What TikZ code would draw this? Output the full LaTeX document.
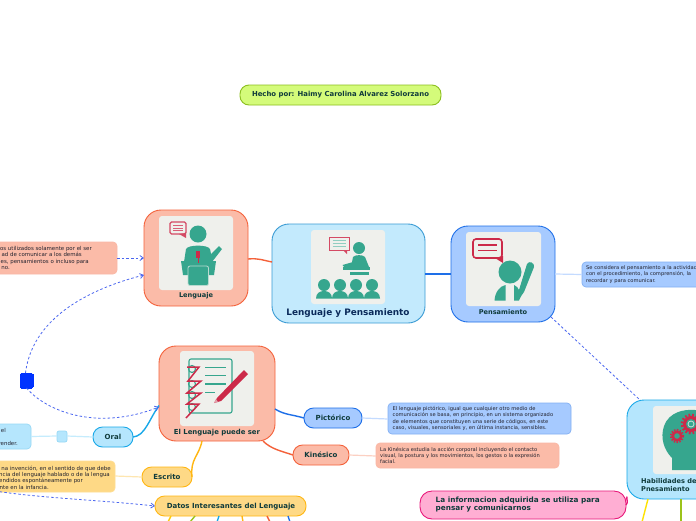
\documentclass[tikz,border=0pt]{standalone}
\usepackage{fontspec}
\setmainfont{DejaVu Sans}
\usetikzlibrary{arrows.meta}
\definecolor{teal1}{HTML}{36A68E}
\definecolor{red1}{HTML}{CC2A49}
\definecolor{panel}{HTML}{EFF0EC}
\definecolor{cyanF}{HTML}{C3EAFD}\definecolor{cyanD}{HTML}{3A9BD4}
\definecolor{oranF}{HTML}{FBBBA8}\definecolor{oranD}{HTML}{F4613A}\definecolor{oranL}{HTML}{FCD0C2}
\definecolor{bluF}{HTML}{A6CAFF}\definecolor{bluD}{HTML}{1E6FE8}\definecolor{bluL}{HTML}{C4DBFF}
\definecolor{skyF}{HTML}{B5E6FD}\definecolor{skyD}{HTML}{18A8E8}\definecolor{skyL}{HTML}{C5ECFD}
\definecolor{yelF}{HTML}{FED986}\definecolor{yelD}{HTML}{FFB612}\definecolor{yelL}{HTML}{FEE6B0}
\definecolor{pnkF}{HTML}{FFAED3}\definecolor{pnkD}{HTML}{E8187A}
\definecolor{grnF}{HTML}{D4FB7A}\definecolor{grnD}{HTML}{8CBF1F}\definecolor{grnC}{HTML}{9CC31A}
\definecolor{dashB}{HTML}{4A66F0}\definecolor{sqB}{HTML}{0033FF}
\definecolor{ink}{HTML}{0F3B3B}\definecolor{ink2}{HTML}{0B2A5A}\definecolor{noteink}{HTML}{22222E}
\newcommand\rbox[6]{\pgfmathsetmacro\cxx{(#3+#5)/2}\pgfmathsetmacro\cyy{(#4+#6)/2}%
  \node[#2,minimum width={(#5-#3)*1pt},minimum height={(#6-#4)*1pt}] (#1) at (\cxx,\cyy) {};}
\newcommand\gapr[1]{\hbox to #1pt{}}
\tikzset{
  base/.style={rectangle,inner sep=0pt,outer sep=0pt,line width=0.9pt},
  big/.style={base,rounded corners=17pt},
  pill/.style={base,rounded corners=9.5pt},
  note/.style={base,rounded corners=4pt,line width=0.7pt},
  panelbox/.style={rectangle,inner sep=0pt,outer sep=0pt,rounded corners=3pt,fill=panel},
  lab/.style={font=\fontsize{6.6}{8}\selectfont\bfseries,text=ink,inner sep=0pt},
  notetext/.style={font=\fontsize{5.15}{6.35}\selectfont,text=noteink,inner sep=0pt,align=left},
  notetextr/.style={font=\fontsize{5.45}{6.35}\selectfont,text=noteink,inner sep=0pt,align=right},
  conn/.style={line width=1.4pt},
  soft/.style={line width=1.2pt},
  dashlink/.style={dashB,line width=0.8pt,dash pattern=on 2.5pt off 2.2pt,-{Straight Barb[length=3.5pt,width=5pt]}},
}
\begin{document}
\begin{tikzpicture}[x=1pt,y=-1pt]
\useasboundingbox (0,0) rectangle (696,520);
\clip (0,0) rectangle (696,520);
\fill[white] (0,0) rectangle (696,520);

% nodes
\rbox{title}{base,rounded corners=9pt,fill=grnF,draw=grnD}{240}{85}{441}{105}
\rbox{center}{big,fill=cyanF,draw=cyanD}{272}{224}{425}{323}
\rbox{leng}{big,fill=oranF,draw=oranD}{144}{210}{248}{306}
\rbox{pens}{big,fill=bluF,draw=bluD}{451}{226}{555}{322}
\rbox{puede}{big,fill=oranF,draw=oranD}{159}{346}{275}{441}
\rbox{habil}{big,fill=skyF,draw=skyD}{627}{400}{770}{499}
\rbox{lengnote}{note,fill=oranF,draw=oranD!45}{-30}{242}{117}{274}
\rbox{pensnote}{note,fill=bluF,draw=bluD!55}{582}{262}{720}{287}
\rbox{pict}{pill,fill=bluF,draw=bluD}{304}{408}{362}{428}
\rbox{kine}{pill,fill=oranF,draw=oranD}{293}{445}{349}{465}
\rbox{pictnote}{note,fill=bluF,draw=bluD!55}{388}{403}{571}{434}
\rbox{kinenote}{note,fill=oranF,draw=oranD!45}{376}{443}{559}{468}
\rbox{oral}{pill,fill=skyF,draw=skyD}{93}{427}{133}{447}
\rbox{tiny}{base,rounded corners=2pt,line width=0.7pt,fill=skyF,draw=skyD!45}{57}{431}{67}{442}
\rbox{oralnote}{note,fill=skyF,draw=skyD!45}{-30}{424}{31}{449}
\rbox{escr}{pill,fill=yelF,draw=yelD}{142}{467}{192}{487}
\rbox{escrnote}{note,fill=yelF,draw=yelD!45}{-30}{461}{115}{492}
\rbox{datos}{pill,fill=yelF,draw=yelD}{155}{496}{306}{516}
\rbox{info}{base,rounded corners=12pt,fill=pnkF,draw=pnkD}{420}{491}{626}{519}
\rbox{square}{base,rounded corners=1.5pt,line width=0pt,fill=sqB,draw=sqB}{20}{373}{33}{388}

% connectors
\draw[conn,oranD] ([yshift=11.5pt]center.west) .. controls +(-10,-2) and +(10,-1) .. ([yshift=-1pt]leng.east);
\draw[line width=1.7pt,color=bluD] ([yshift=-0.5pt]center.east) -- (pens.west);
\draw[soft,bluL] (pens.east) -- (pensnote.west);
\draw[conn,bluD] ([yshift=-15.5pt]puede.east) .. controls +(10,6) and +(-14,-4) .. (pict.west);
\draw[conn,oranD] ([xshift=46pt]puede.south) .. controls +(8,8) and +(-12,-4) .. (kine.west);
\draw[soft,bluL] (pict.east) -- ([yshift=-0.5pt]pictnote.west);
\draw[soft,oranL] (kine.east) -- ([yshift=-0.5pt]kinenote.west);
\draw[conn,skyD] ([yshift=-12pt]puede.west) .. controls +(-10,14) and +(12,-1) .. (oral.east);
\draw[soft,skyL] (oral.west) -- ([yshift=0.5pt]tiny.east);
\draw[soft,skyL] ([yshift=0.5pt]tiny.west) -- (oralnote.east);
\draw[conn,yelD] ([xshift=-15pt]puede.south) .. controls +(-3,15) and +(-2,-18) .. (escr.east);
\draw[soft,yelL] (escr.west) -- ([yshift=0.5pt]escrnote.east);
\coordinate (b1) at (168,522);\coordinate (b2) at (190,522);\coordinate (b3) at (217,522);
\coordinate (b4) at (243,522);\coordinate (b5) at (270,522);\coordinate (b6) at (290,522);
\draw[conn,yelD!70!yellow] ([xshift=-59.5pt]datos.south) -- (b1);
\draw[conn,grnC] ([xshift=-35.5pt]datos.south) -- (b2);
\draw[conn,skyD] ([xshift=-11.5pt]datos.south) -- (b3);
\draw[conn,yelD] ([xshift=11.5pt]datos.south) -- (b4);
\draw[conn,oranD] ([xshift=36.5pt]datos.south) -- (b5);
\draw[conn,bluD] ([xshift=57.5pt]datos.south) -- (b6);
\draw[conn,pnkD] ([yshift=-47pt]habil.west) .. controls +(-1,4) and +(3,-4) .. (info.east);
\coordinate (h1) at (642,522);\coordinate (h2) at (681,522);
\draw[conn,yellow!85!orange] ([xshift=-50.5pt]habil.south) -- (h1);
\draw[conn,grnC] ([xshift=-17.5pt]habil.south) -- (h2);

% dashed
\coordinate (leftedge) at (-5,491);
\draw[dashlink] (lengnote.east) -- (leng.west);
\draw[dashlink] (square.north) ++(-1,0) .. controls (32,320) and (85,290) .. ([yshift=-17pt]leng.west);
\draw[dashlink] (square.south) .. controls (45,410) and (95,432) .. ([yshift=-13.5pt]puede.west);
\draw[dashlink] (leftedge) .. controls (40,498) and (100,500) .. (datos.west);
\draw[dashlink,-] ([xshift=-4pt,yshift=5pt]pens.south east) -- ([xshift=13pt]habil.north west);

% labels
\node[lab,font=\fontsize{6.9}{8}\selectfont\bfseries] (titlet) at (340.5,95) {Hecho por: Haimy Carolina Alvarez Solorzano};
\node[lab,text=ink2,font=\fontsize{8.9}{10}\selectfont\bfseries] (centert) at (348,313) {Lenguaje y Pensamiento};
\node[lab] (lengt) at (196,296) {Lenguaje};
\node[lab] (penst) at (503,312.5) {Pensamiento};
\node[lab,font=\fontsize{6.9}{8}\selectfont\bfseries] (puedet) at (217,432.5) {El Lenguaje puede ser};
\node[lab,font=\fontsize{7}{8}\selectfont\bfseries] (pictt) at (333,418) {Pictórico};
\node[lab,font=\fontsize{7}{8}\selectfont\bfseries] (kinet) at (321,455) {Kinésico};
\node[lab,font=\fontsize{7}{8}\selectfont\bfseries] (oralt) at (113,437) {Oral};
\node[lab,font=\fontsize{7}{8}\selectfont\bfseries] (escrt) at (167,477) {Escrito};
\node[lab,font=\fontsize{7}{8}\selectfont\bfseries] (datost) at (231,506.5) {Datos Interesantes del Lenguaje};
\node[lab,anchor=west,align=left,font=\fontsize{7.3}{8}\selectfont\bfseries] (infot) at (435.5,505) {La informacion adquirida se utiliza para\\pensar y comunicarnos};
\node[lab,anchor=west,align=left,font=\fontsize{6.6}{8}\selectfont\bfseries] (habilt) at (641,485) {Habilidades de\\Pnesamiento};

\node[notetextr,anchor=east] (lengn) at (92,258) {os utilizados solamente por el ser\\ad de comunicar a los demás\gapr{10}\\es, pensamientos o incluso para\gapr{3}\\no.\gapr{82}};
\node[notetext,anchor=west] (pensn) at (586,274.5) {Se considera el pensamiento a la actividad\\con el procedimiento, la comprensión, la\\recordar y para comunicar.};
\node[notetext,anchor=west] (pictn) at (392.5,418.5) {El lenguaje pictórico, igual que cualquier otro medio de\\comunicación se basa, en principio, en un sistema organizado\\de elementos que constituyen una serie de códigos, en este\\caso, visuales, sensoriales y, en última instancia, sensibles.};
\node[notetext,anchor=west] (kinen) at (380,455.5) {La Kinésica estudia la acción corporal incluyendo el contacto\\visual, la postura y los movimientos, los gestos o la expresión\\facial.};
\node[notetextr,anchor=east] (oraln) at (18,437) {el\gapr{12}\\\mbox{}\\render.};
\node[notetextr,anchor=east] (escrn) at (111,477.5) {na invención, en el sentido de que debe\\ncia del lenguaje hablado o de la lengua\gapr{1}\\endidos espontáneamente por\gapr{28}\\nte en la infancia.\gapr{62}};

% panels
\rbox{panelA}{panelbox}{311}{230}{385}{304}
\rbox{panelB}{panelbox}{159}{216}{233}{290}
\rbox{panelC}{panelbox}{466}{232}{541}{306}
\rbox{panelD}{panelbox}{180}{351}{254}{426}
\rbox{panelE}{panelbox}{653}{406}{727}{474}

% icon: centre (teacher and audience)
\draw[red1!85,line width=0.9pt,fill=panel] (329.5,237) rectangle (349,250);
\fill[red1!85] (343,250) -- (347,254) -- (347,250) -- cycle;
\foreach \yy in {240.5,243.5,246.5}{\draw[teal1!55,line width=0.8pt] (332.5,\yy) -- (346,\yy);}
\fill[teal1] (359,248) circle (6);
\fill[teal1] (351,267) -- (353,257) .. controls (355,254.5) and (363,254.5) .. (365,257) -- (369,267) -- cycle;
\fill[teal1] (342.5,265) -- (353,262) -- (353,267) -- (345,268) -- cycle;
\fill[teal1] (343,267) rectangle (370,269.5);
\fill[teal1] (350,272) rectangle (369,275);
\foreach \xx in {324,340,356,372}{
  \fill[teal1] (\xx,285) circle (6);
  \fill[teal1] (\xx-8,298.5) .. controls (\xx-8,293) and (\xx-4,291) .. (\xx,291) .. controls (\xx+4,291) and (\xx+8,293) .. (\xx+8,298.5) -- cycle;
}

% icon: Lenguaje (speaker)
\draw[red1!85,line width=1.2pt,fill=panel,rounded corners=1.5pt] (170,222) rectangle (186,234);
\fill[red1!85] (179,234) -- (186,238) -- (186,233) -- cycle;
\foreach \yy in {225.5,228,230.5}{\draw[red1!75,line width=0.7pt] (173,\yy) -- (183,\yy);}
\fill[teal1] (198,234) circle (8.5);
\fill[teal1] (184,262) -- (186,249) .. controls (188,244.5) and (208,244.5) .. (210,249) -- (211,254) -- (219,246) -- (222,249) -- (212,262) -- cycle;
\fill[teal1] (216,261) -- (214,275) -- (183,275) -- (181,261) -- cycle;
\fill[red1] (196,251) rectangle (200,258);
\fill[red1] (197.5,258) rectangle (199,263);
\draw[panel!70!teal1,line width=0.8pt,fill=teal1,rounded corners=2pt] (188,266) rectangle (208.5,285.5);

% icon: Pensamiento
\draw[red1,line width=1.6pt,fill=panel,rounded corners=3pt] (473,239) rectangle (502,258);
\fill[red1] (495,258) -- (503,263) -- (503,256) -- cycle;
\foreach \yy in {245,250.5}{\draw[red1,line width=1.3pt] (478,\yy) -- (497,\yy);}
\fill[teal1] (510,272) circle (11.5);
\fill[teal1] (494.5,300.5) .. controls (495,292) and (500,286) .. (505.5,285) -- (505.5,300.5) -- cycle;
\fill[teal1] (514,300.5) -- (514,285) .. controls (517,286) and (518,288) .. (519,290) -- (527,264) .. controls (529,260) and (535,263) .. (534,267) -- (524,292) .. controls (521,296) and (520,298) .. (519,300.5) -- cycle;

% icon: notebook and pencil
\draw[teal1,line width=1.1pt,fill=panel,rounded corners=2pt] (189,359) rectangle (232,413);
\foreach \yy/\xe in {367.5/226,375.5/226,384/226,392.5/215}{\draw[teal1,line width=1.4pt] (205,\yy) -- (\xe,\yy);}
\foreach \yy in {369,384,395,407}{\draw[teal1,line width=1.1pt] (192,\yy) circle (3.5);}
\draw[red1,line width=1.5pt] (187,367) -- (199,367) -- (188,381) -- (201,381) -- (187,393) -- (201,393) -- (187,404) -- (199,404) -- (186,418);
\fill[red1] (214,403) -- (217,398) -- (244,370) -- (248,374) -- (221,401) -- cycle;
\fill[panel!60!red1] (214,403) -- (216,399) -- (218,402) -- cycle;

% icon: head with gears
\fill[teal1] (672,470) -- (672,458) .. controls (664,450) and (660,438) .. (664,426) .. controls (669,412) and (684,409) .. (695,410) -- (710,412) -- (710,470) -- cycle;
\draw[red1,line width=3pt,dash pattern=on 1.8pt off 1.8pt] (691,424) circle (9);
\fill[red1] (691,424) circle (8);
\fill[teal1] (691,424) circle (5);
\draw[panel!80!teal1,line width=0.8pt] (691,424) circle (3);
\draw[red1,line width=2.2pt,dash pattern=on 1.4pt off 1.4pt] (677,436) circle (6);
\fill[red1] (677,436) circle (5.6);
\fill[teal1] (677,436) circle (2.8);
\end{tikzpicture}
\end{document}
